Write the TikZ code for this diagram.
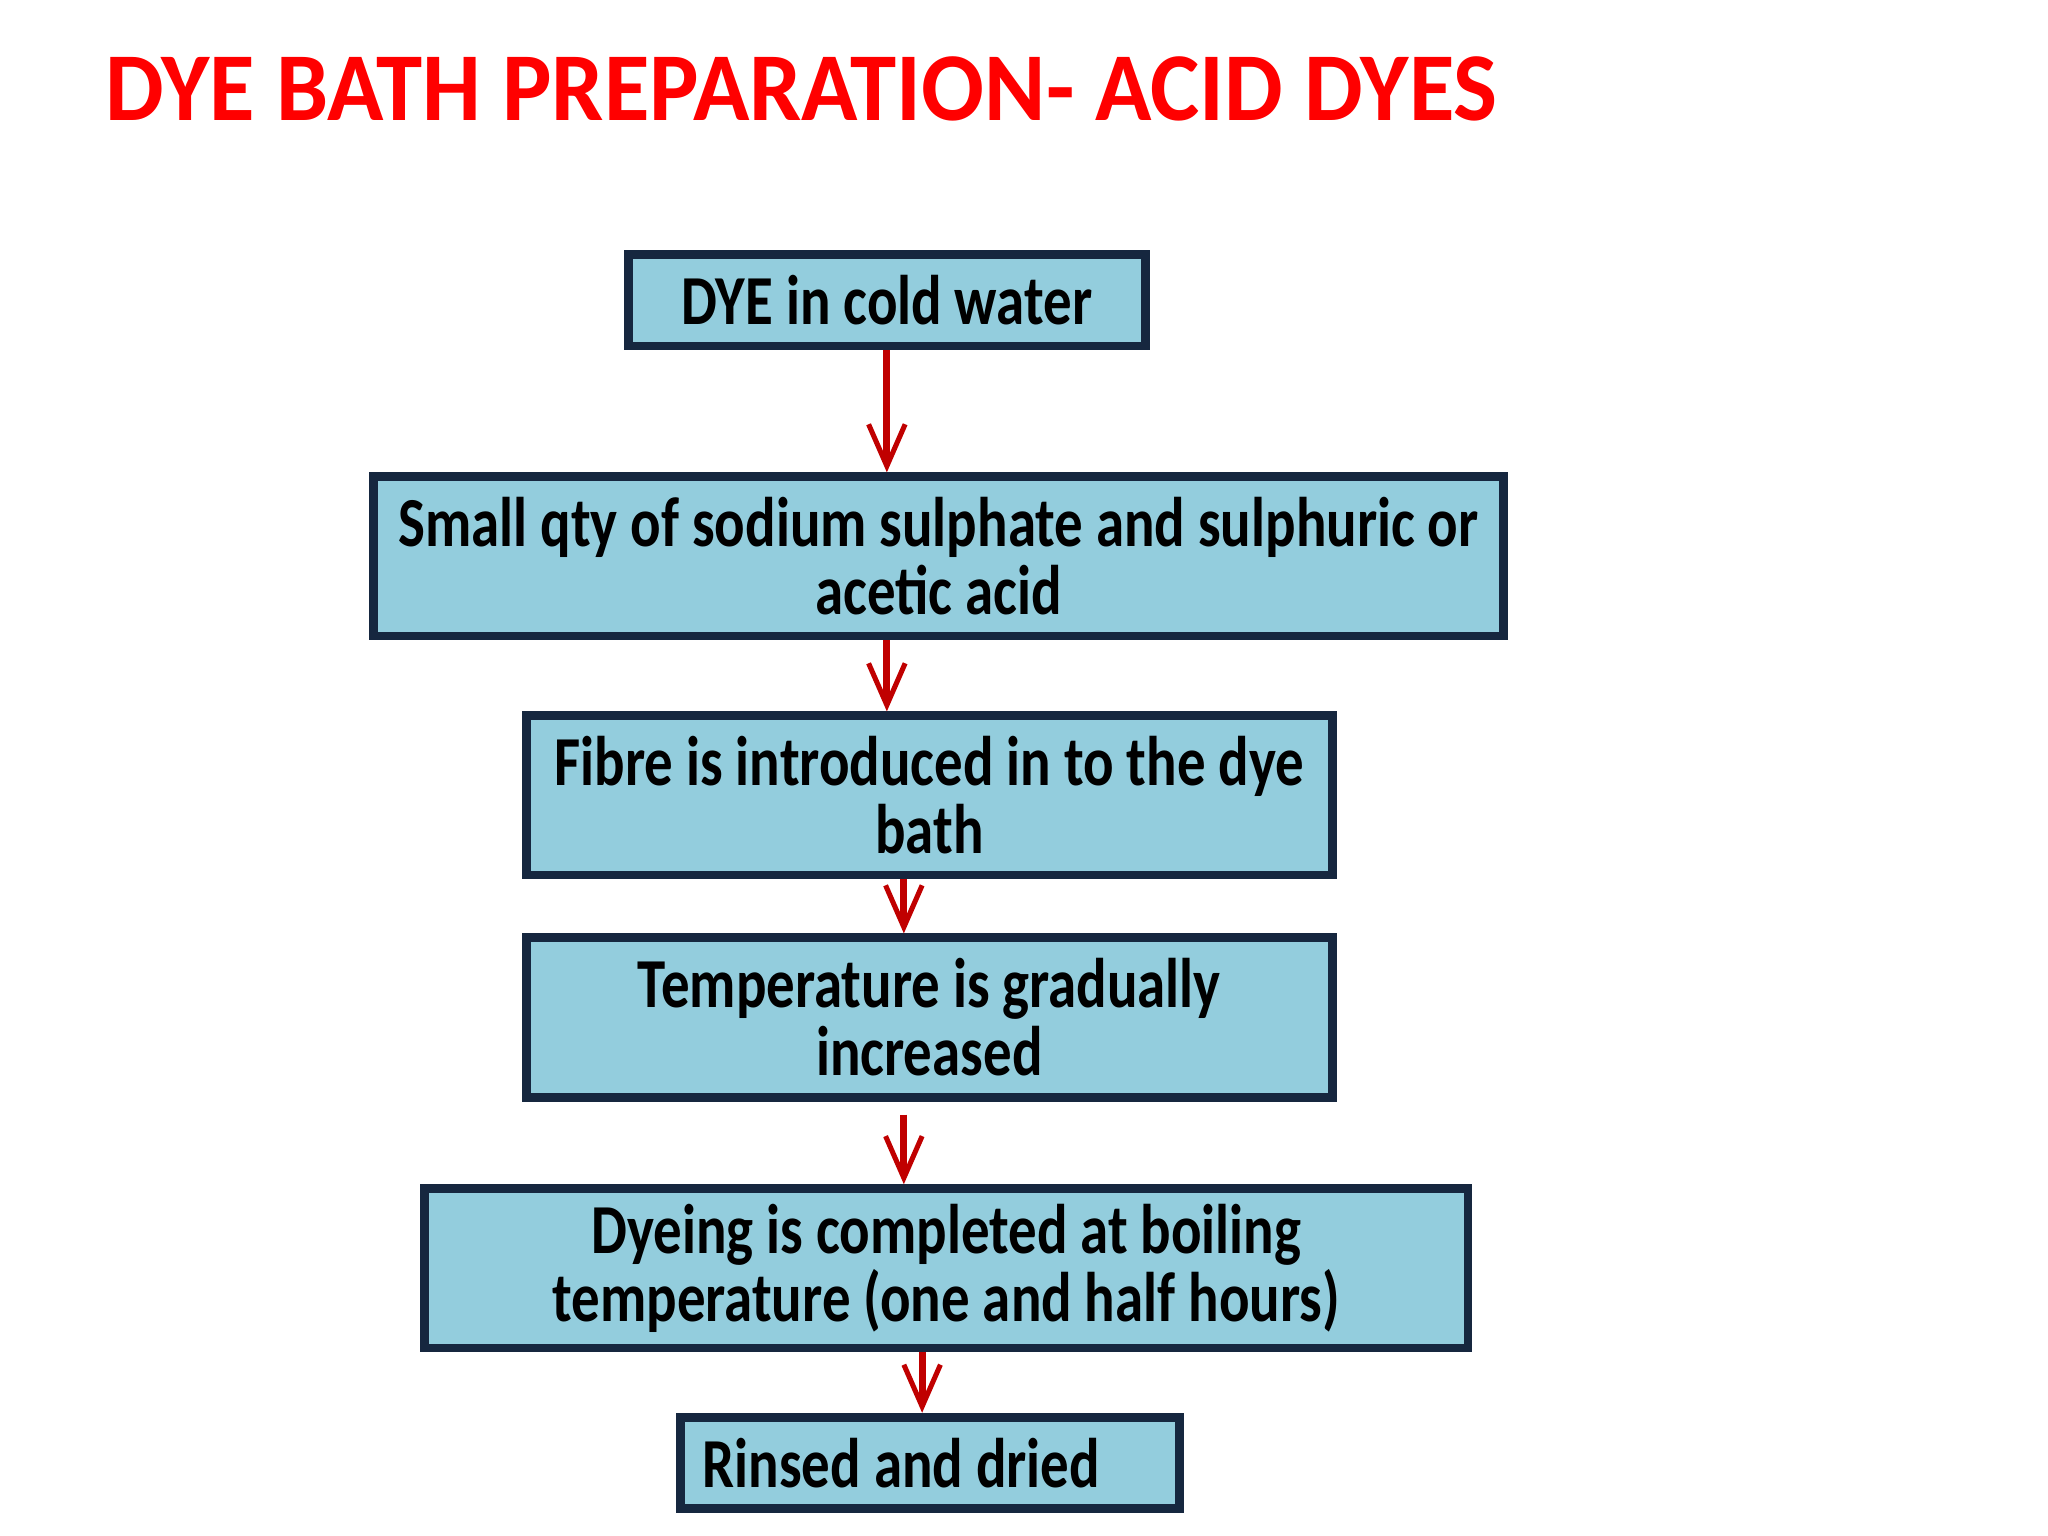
\documentclass[tikz,border=0pt]{standalone}
\usepackage{fontspec}
\setmainfont{Carlito}
\newfontfamily\boxfont[FakeStretch=0.81]{Carlito}
\newfontfamily\titlefont[FakeStretch=0.956]{Carlito}
\usetikzlibrary{arrows.meta}
\definecolor{boxfill}{HTML}{93CDDD}
\definecolor{boxline}{HTML}{16273F}
\definecolor{arrowred}{HTML}{C00000}
\definecolor{titlered}{HTML}{FF0000}

\begin{document}
\begin{tikzpicture}[
		stepbox/.style={draw=boxline,line width=1.9pt,fill=boxfill,align=center,inner sep=0pt,
			font=\boxfont\bfseries\fontsize{15.3}{14.8}\selectfont},
		flow/.style={draw=arrowred,line width=1.5pt,
			-{Straight Barb[length=0.32cm,width=0.28cm,line width=1.1pt]}}
	]
	\useasboundingbox (0,0) rectangle (15.68,-11.76);
	\node[anchor=base west,inner sep=0pt,text=titlered,font=\titlefont\bfseries\fontsize{21.2}{25}\selectfont]
		(title) at (0.80,-0.92) {DYE BATH PREPARATION- ACID DYES};
	\node[stepbox,minimum width=3.96cm,minimum height=0.70cm] (dye) at (6.79,-2.30)
		{DYE in cold water};
	\node[stepbox,minimum width=8.65cm,minimum height=1.22cm] (salt) at (7.185,-4.26)
		{Small qty of sodium sulphate and sulphuric or\\acetic acid};
	\node[stepbox,minimum width=6.17cm,minimum height=1.22cm] (fibre) at (7.115,-6.09)
		{Fibre is introduced in to the dye\\bath};
	\node[stepbox,minimum width=6.17cm,minimum height=1.22cm] (temp) at (7.115,-7.79)
		{Temperature is gradually\\increased};
	\node[stepbox,minimum width=7.99cm,minimum height=1.22cm] (boil) at (7.245,-9.71)
		{Dyeing is completed at boiling\\temperature (one and half hours)};
	\node[stepbox,minimum width=3.82cm,minimum height=0.70cm,text width=3.48cm,
		align=flush left,inner xsep=0.17cm] (rinse) at (7.12,-11.20)
		{Rinsed and dried};
	% arrows
	\draw[flow] (dye.south) -- (dye.south |- salt.north);
	\draw[flow] (dye.south |- salt.south) -- (dye.south |- fibre.north);
	\draw[flow] ([xshift=-0.195cm]fibre.south) -- ([xshift=-0.195cm]fibre.south |- temp.north);
	\draw[flow] ([xshift=-0.195cm,yshift=-0.10cm]temp.south) -- ([xshift=-0.195cm]temp.south |- boil.north);
	\draw[flow] ([xshift=-0.185cm]boil.south) -- ([xshift=-0.185cm]boil.south |- rinse.north);
\end{tikzpicture}
\end{document}
